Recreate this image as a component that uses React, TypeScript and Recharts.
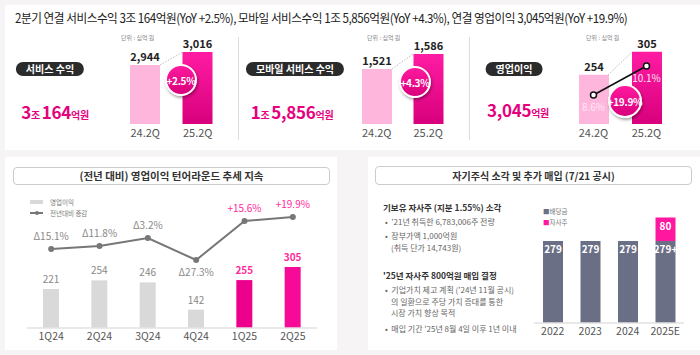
import React from 'react';
import { BarChart, Bar, XAxis, YAxis, Cell, LabelList, ComposedChart, Line } from 'recharts';

const FONT = '"Noto Sans CJK KR", "Noto Sans", sans-serif';

// ---- data ----
const topQuarters = ['24.2Q', '25.2Q'];
const serviceRevenue = [2944, 3016];
const mobileRevenue = [1521, 1586];
const opProfit = [254, 305];
const opMargin = [8.6, 10.1];

const trendQuarters = ['1Q24', '2Q24', '3Q24', '4Q24', '1Q25', '2Q25'];
const trendProfit = [221, 254, 246, 142, 255, 305];
const trendYoY = [-15.1, -11.8, -3.2, -27.3, 15.6, 19.9];

const years = ['2022', '2023', '2024', '2025E'];
const dividend = [279, 279, 279, 279];
const buyback = [0, 0, 0, 80];
const dividendLabels = ['279', '279', '279', '279+'];
const buybackLabels = ['', '', '', '80'];

const fmt = (v: any) => Number(v).toLocaleString('en-US');

function Gradient({ id }: { id: string }) {
  return (
    <defs>
      <linearGradient id={id} x1="0" y1="0" x2="0" y2="1">
        <stop offset="0%" stopColor="#ff1ca3" />
        <stop offset="100%" stopColor="#d8007c" />
      </linearGradient>
    </defs>
  );
}

const TOP_M = { top: 20, right: 0, bottom: 0, left: 0 };

function MiniBars({ left, width, values, domain, gid }: any) {
  const data = topQuarters.map((q, i) => ({ q, v: values[i] }));
  return (
    <div style={{ position: 'absolute', left, top: 20, width, height: 124 }}>
      <BarChart width={width} height={124} data={data} margin={TOP_M}>
        <Gradient id={gid} />
        <XAxis dataKey="q" axisLine={false} tickLine={false} tickSize={0} tickMargin={5} height={20} interval={0}
          tick={{ fontSize: 11, fill: '#555', fontFamily: FONT }} />
        <YAxis hide domain={domain} allowDataOverflow />
        <Bar dataKey="v" barSize={30} isAnimationActive={false}>
          <Cell fill="#ffb6dd" />
          <Cell fill={`url(#${gid})`} />
          <LabelList dataKey="v" position="top" offset={4} formatter={fmt}
            fill="#222" fontSize={11} fontWeight={700} fontFamily={FONT} />
        </Bar>
      </BarChart>
    </div>
  );
}

function MarginBars() {
  const data = topQuarters.map((q, i) => ({ q, v: opProfit[i], m: opMargin[i] }));
  return (
    <div style={{ position: 'absolute', left: 567, top: 20, width: 106, height: 124 }}>
      <ComposedChart width={106} height={124} data={data} margin={TOP_M}>
        <Gradient id="g3" />
        <XAxis dataKey="q" axisLine={false} tickLine={false} tickSize={0} tickMargin={5} height={20} interval={0}
          tick={{ fontSize: 11, fill: '#555', fontFamily: FONT }} />
        <YAxis yAxisId="l" hide domain={[145, 331]} allowDataOverflow />
        <YAxis yAxisId="r" hide orientation="right" domain={[7.1, 11.45]} allowDataOverflow />
        <Bar yAxisId="l" dataKey="v" barSize={30} isAnimationActive={false}>
          <Cell fill="#ffb6dd" />
          <Cell fill="url(#g3)" />
          <LabelList dataKey="v" position="top" offset={4} formatter={fmt}
            fill="#222" fontSize={11} fontWeight={700} fontFamily={FONT} />
        </Bar>
        <Line yAxisId="r" dataKey="m" stroke="#111" strokeWidth={1.6} isAnimationActive={false}
          dot={{ r: 3, fill: '#fff', stroke: '#111', strokeWidth: 1.5 }}>
          <LabelList dataKey="m" position="bottom" offset={9} formatter={(v: any) => `${v}%`}
            fill="#ffe6f3" fontSize={10} fontFamily={FONT} />
        </Line>
      </ComposedChart>
    </div>
  );
}

function Badge({ cx, cy, r, text }: any) {
  return (
    <div style={{
      position: 'absolute', left: cx - r, top: cy - r, width: 2 * r, height: 2 * r, boxSizing: 'border-box',
      borderRadius: '50%', background: 'linear-gradient(180deg,#ff1a9f,#d9007b)', border: '2px solid #fff',
      boxShadow: '1px 2px 3px rgba(0,0,0,0.35)', display: 'flex', alignItems: 'center', justifyContent: 'center',
      color: '#fff', fontSize: 10, fontWeight: 700, fontFamily: FONT, letterSpacing: -0.3,
    }}>{text}</div>
  );
}

function Connector({ x1, y1, x2, y2 }: any) {
  return (
    <svg style={{ position: 'absolute', left: 0, top: 0 }} width={700} height={355}>
      <line x1={x1} y1={y1} x2={x2} y2={y2} stroke="#aaa" strokeWidth={0.8} strokeDasharray="1.5 1.5" />
    </svg>
  );
}

function Pill({ cx, top, text }: any) {
  return (
    <div style={{ position: 'absolute', left: cx, top, transform: 'translateX(-50%)', whiteSpace: 'nowrap',
      background: '#2b2b2b', color: '#fff', fontSize: 10, fontWeight: 700, fontFamily: FONT, lineHeight: '14px',
      height: 14, padding: '0 10px', borderRadius: 8 }}>{text}</div>
  );
}

function BigNum({ cx, top, parts }: any) {
  return (
    <div style={{ position: 'absolute', left: cx, top, transform: 'translateX(-50%)', whiteSpace: 'nowrap',
      color: '#e6007e', fontFamily: FONT, fontWeight: 700, letterSpacing: -0.3 }}>
      {parts.map((p: any, i: number) => (
        <span key={i} style={{ fontSize: p[1] ? 17 : 10 }}>{p[0]}</span>
      ))}
    </div>
  );
}

const unitStyle: any = { position: 'absolute', top: 33, fontSize: 6, color: '#888', fontFamily: FONT, whiteSpace: 'nowrap' };

function TrendChart() {
  const data = trendQuarters.map((q, i) => ({ q, p: trendProfit[i], y: trendYoY[i] }));
  const barLabel = (props: any) => {
    const { x, y, width, value, index } = props;
    const pos = index >= 4;
    return (
      <text x={x + width / 2} y={y - 6} textAnchor="middle" fontSize={10} fontFamily={FONT}
        fill={pos ? '#ff2a9a' : '#888'} fontWeight={pos ? 700 : 400}>{value}</text>
    );
  };
  const lineLabel = (props: any) => {
    const { x, y, value, index } = props;
    const pos = value > 0;
    const below = index === 3;
    return (
      <text x={x} y={below ? y + 16 : y - 9} textAnchor="middle" fontSize={10} fontFamily={FONT}
        fill={pos ? '#ff2a9a' : '#888'}>{pos ? `+${value}%` : `Δ${Math.abs(value)}%`}</text>
    );
  };
  return (
    <div style={{ position: 'absolute', left: 27, top: 195, width: 290, height: 153 }}>
      <ComposedChart width={290} height={153} data={data} margin={{ top: 0, right: 0, bottom: 0, left: 0 }}>
        <XAxis dataKey="q" axisLine={{ stroke: '#e2e2e2', strokeWidth: 1.5 }} tickLine={false} tickSize={0} tickMargin={5}
          height={20} interval={0} tick={{ fontSize: 10.5, fill: '#555', fontFamily: FONT }} />
        <YAxis yAxisId="l" hide domain={[72, 580]} allowDataOverflow />
        <YAxis yAxisId="r" hide orientation="right" domain={[-101.9, 44.05]} allowDataOverflow />
        <Bar yAxisId="l" dataKey="p" barSize={16} isAnimationActive={false}>
          {trendProfit.map((_, i) => (
            <Cell key={i} fill={i === 4 ? '#ec008c' : i === 5 ? '#f80a98' : '#d9d9d9'} />
          ))}
          <LabelList dataKey="p" content={barLabel} />
        </Bar>
        <Line yAxisId="r" dataKey="y" stroke="#777" strokeWidth={2} isAnimationActive={false}
          dot={{ r: 3, fill: '#777', stroke: 'none' }}>
          <LabelList dataKey="y" content={lineLabel} />
        </Line>
      </ComposedChart>
    </div>
  );
}

function ReturnChart() {
  const data = years.map((yr, i) => ({ yr, d: dividend[i], b: buyback[i], dl: dividendLabels[i], bl: buybackLabels[i] }));
  return (
    <div style={{ position: 'absolute', left: 534, top: 200, width: 150, height: 143 }}>
      <BarChart width={150} height={143} data={data} margin={{ top: 0, right: 0, bottom: 0, left: 0 }}>
        <XAxis dataKey="yr" axisLine={{ stroke: '#e2e2e2', strokeWidth: 1.5 }} tickLine={false} tickSize={0} tickMargin={5}
          height={20} interval={0} tick={{ fontSize: 10.5, fill: '#555', fontFamily: FONT }} />
        <YAxis hide domain={[0, 418.5]} allowDataOverflow />
        <Bar dataKey="d" stackId="s" fill="#6b6f86" barSize={20} isAnimationActive={false}>
          <LabelList dataKey="dl" position="insideTop" offset={5} fill="#fff" fontSize={10} fontWeight={700} fontFamily={FONT} />
        </Bar>
        <Bar dataKey="b" stackId="s" fill="#ff17a0" barSize={20} isAnimationActive={false}>
          <LabelList dataKey="bl" position="insideTop" offset={5} fill="#fff" fontSize={10} fontWeight={700} fontFamily={FONT} />
        </Bar>
      </BarChart>
    </div>
  );
}

const bulletStyle: any = { position: 'absolute', left: 385, fontSize: 8, color: '#666', fontFamily: FONT, whiteSpace: 'nowrap', lineHeight: '10px' };
const headStyle: any = { position: 'absolute', left: 383, fontSize: 8.5, fontWeight: 700, color: '#333', fontFamily: FONT, whiteSpace: 'nowrap', lineHeight: '12px' };

export default function App() {
  return (
    <div style={{ position: 'absolute', left: 0, top: 0, width: 700, height: 355, background: '#f6f4f5', overflow: 'hidden', fontFamily: FONT }}>
      {/* panels */}
      <div style={{ position: 'absolute', left: 5, top: 5, width: 695, height: 145, background: '#fff' }} />
      <div style={{ position: 'absolute', left: 5, top: 157, width: 332, height: 193, background: '#fff' }} />
      <div style={{ position: 'absolute', left: 368, top: 157, width: 332, height: 193, background: '#fff' }} />

      {/* title */}
      <div style={{ position: 'absolute', left: 15, top: 9, fontSize: 12.5, color: '#222', whiteSpace: 'nowrap', letterSpacing: -0.5,
        lineHeight: '18px', transform: 'scaleX(0.93)', transformOrigin: 'left center' }}>
        2분기 연결 서비스수익 3조 164억원(YoY +2.5%), 모바일 서비스수익 1조 5,856억원(YoY +4.3%), 연결 영업이익 3,045억원(YoY +19.9%)
      </div>

      {/* separators */}
      <div style={{ position: 'absolute', left: 238, top: 37, width: 1, height: 103, background: '#ddd' }} />
      <div style={{ position: 'absolute', left: 469, top: 37, width: 1, height: 103, background: '#ddd' }} />

      <div style={{ ...unitStyle, left: 121 }}>단위 : 십억 원</div>
      <div style={{ ...unitStyle, left: 367 }}>단위 : 십억 원</div>
      <div style={{ ...unitStyle, left: 586 }}>단위 : 십억 원</div>

      {/* panel 1 */}
      <Pill cx={50} top={62} text="서비스 수익" />
      <BigNum cx={55} top={99} parts={[['3', 1], ['조 ', 0], ['164', 1], ['억원', 0]]} />
      <Connector x1={160} y1={65} x2={183} y2={52} />
      <MiniBars left={119} width={105} values={serviceRevenue} domain={[2617, 3082]} gid="g1" />
      <Badge cx={181} cy={80} r={16} text="+2.5%" />

      {/* panel 2 */}
      <Pill cx={295} top={62} text="모바일 서비스 수익" />
      <BigNum cx={292} top={99} parts={[['1', 1], ['조 ', 0], ['5,856', 1], ['억원', 0]]} />
      <Connector x1={392} y1={69} x2={413} y2={54} />
      <MiniBars left={351} width={103} values={mobileRevenue} domain={[1283, 1647]} gid="g2" />
      <Badge cx={415} cy={82} r={16} text="+4.3%" />

      {/* panel 3 */}
      <Pill cx={514} top={62} text="영업이익" />
      <BigNum cx={518} top={97} parts={[['3,045', 1], ['억원', 0]]} />
      <Connector x1={608} y1={75} x2={632} y2={52} />
      <MarginBars />
      <Badge cx={625} cy={101} r={17} text="+19.9%" />

      {/* bottom-left */}
      <div style={{ position: 'absolute', left: 13, top: 167, width: 317, height: 18, boxSizing: 'border-box', border: '1px solid #ccc', borderRadius: 4,
        textAlign: 'center', fontSize: 10.5, fontWeight: 700, color: '#333', lineHeight: '16px' }}>
        (전년 대비) 영업이익 턴어라운드 추세 지속
      </div>
      <div style={{ position: 'absolute', left: 30, top: 200, width: 13, height: 4, background: '#d9d9d9' }} />
      <div style={{ position: 'absolute', left: 50, top: 197, fontSize: 6.5, color: '#777', whiteSpace: 'nowrap' }}>영업이익</div>
      <div style={{ position: 'absolute', left: 30, top: 212, width: 13, height: 2, background: '#777' }} />
      <div style={{ position: 'absolute', left: 34.5, top: 211, width: 4, height: 4, borderRadius: 2, background: '#777' }} />
      <div style={{ position: 'absolute', left: 50, top: 208, fontSize: 6.5, color: '#777', whiteSpace: 'nowrap' }}>전년대비 증감</div>
      <TrendChart />

      {/* bottom-right */}
      <div style={{ position: 'absolute', left: 375, top: 166, width: 317, height: 19, boxSizing: 'border-box', border: '1px solid #ccc', borderRadius: 4,
        textAlign: 'center', fontSize: 10, fontWeight: 700, color: '#333', lineHeight: '17px' }}>
        자기주식 소각 및 추가 매입 (7/21 공시)
      </div>
      <div style={{ ...headStyle, top: 201 }}>기보유 자사주 (지분 1.55%) 소각</div>
      <div style={{ ...bulletStyle, top: 217 }}>•&nbsp; '21년 취득한 6,783,006주 전량</div>
      <div style={{ ...bulletStyle, top: 231 }}>•&nbsp; 장부가액 1,000억원</div>
      <div style={{ ...bulletStyle, top: 243, left: 391 }}>(취득 단가 14,743원)</div>
      <div style={{ ...headStyle, top: 269 }}>'25년 자사주 800억원 매입 결정</div>
      <div style={{ ...bulletStyle, top: 285 }}>•&nbsp; 기업가치 제고 계획 ('24년 11월 공시)</div>
      <div style={{ ...bulletStyle, top: 297, left: 391 }}>의 일환으로 주당 가치 증대를 통한</div>
      <div style={{ ...bulletStyle, top: 308, left: 391 }}>시장 가치 향상 목적</div>
      <div style={{ ...bulletStyle, top: 324 }}>•&nbsp; 매입 기간 '25년 8월 4일 이후 1년 이내</div>

      <div style={{ position: 'absolute', left: 543, top: 206, fontSize: 6.5, color: '#777', whiteSpace: 'nowrap' }}>
        <span style={{ color: '#6b6f86' }}>■</span>배당금
      </div>
      <div style={{ position: 'absolute', left: 543, top: 217, fontSize: 6.5, color: '#777', whiteSpace: 'nowrap' }}>
        <span style={{ color: '#ff17a0' }}>■</span>자사주
      </div>
      <ReturnChart />
    </div>
  );
}
